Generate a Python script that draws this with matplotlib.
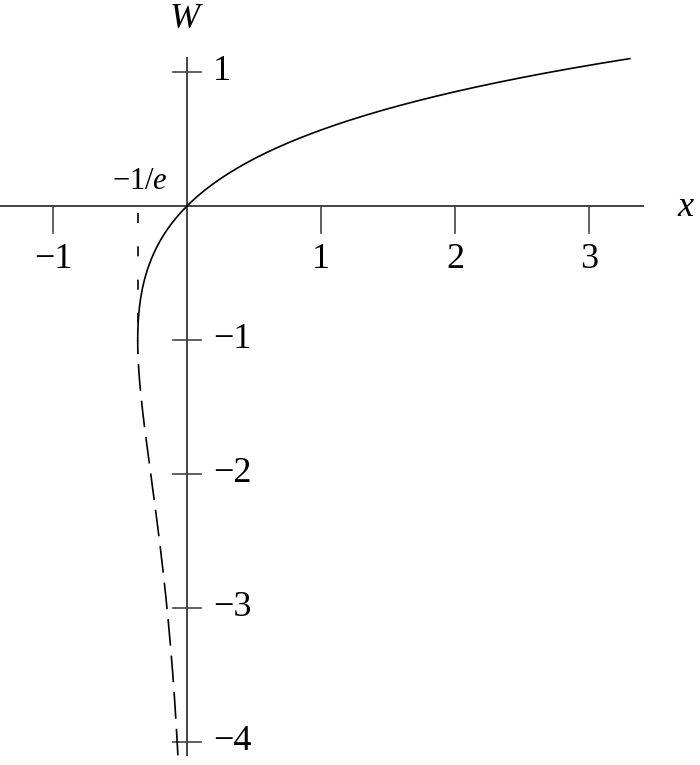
import numpy as np
import matplotlib
matplotlib.use("Agg")
import matplotlib.pyplot as plt

# Lambert W: x = W * exp(W)
w_principal = np.linspace(-1.0, 1.1, 300)
w_lower = np.linspace(-4.1, -1.0, 300)

x_ticks = [-1, 1, 2, 3]
x_tick_labels = ["−1", "1", "2", "3"]
y_ticks = [1, -1, -2, -3, -4]
y_tick_labels = ["1", "−1", "−2", "−3", "−4"]
branch_x = -1 / np.e

plt.rcParams['font.family'] = ['Liberation Serif', 'DejaVu Serif']
plt.rcParams['mathtext.fontset'] = 'custom'
plt.rcParams['mathtext.rm'] = 'Liberation Serif'
plt.rcParams['mathtext.it'] = 'Liberation Serif:italic'

fig = plt.figure(figsize=(7, 7.65), dpi=100)
ax = fig.add_axes([0, 0, 1, 1])
ax.set_xlim(-187 / 134, 513 / 134)
ax.set_ylim((206 - 765) / 134, 206 / 134)
ax.set_aspect('equal')
ax.axis('off')

axis_col = '#444444'
# axes
ax.plot([-1.396, 3.403], [0, 0], color=axis_col, lw=1.4)
ax.plot([0, 0], [-4.10, 1.104], color=axis_col, lw=1.4)

# ticks
for t, lab in zip(x_ticks, x_tick_labels):
    ax.plot([t, t], [0, -0.2], color=axis_col, lw=1.2)
    ax.text(t, -0.40, lab, ha='center', va='center', fontsize=26)
for t, lab in zip(y_ticks, y_tick_labels):
    ax.plot([-0.105, 0.105], [t, t], color=axis_col, lw=1.2)
    ax.text(0.195, t, lab, ha='left', va='center', fontsize=26)

# curves
ax.plot(w_principal * np.exp(w_principal), w_principal, color='black', lw=1.2)
ax.plot(w_lower * np.exp(w_lower), w_lower, color='black', lw=1.2,
        dashes=(16, 6))
ax.plot([branch_x, branch_x], [-0.05, -1.0], color='black', lw=1.2,
        dashes=(6, 14))

# labels
ax.text(-0.02, 1.39, "W", ha='center', va='center', fontsize=26,
        fontstyle='italic')
ax.text(3.72, -0.01, "x", ha='center', va='center', fontsize=26,
        fontstyle='italic')
ax.text(-0.35, 0.18, r"$\mathrm{−1/}e$", ha='center', va='center',
        fontsize=22)

fig.savefig("out.png", dpi=100)
